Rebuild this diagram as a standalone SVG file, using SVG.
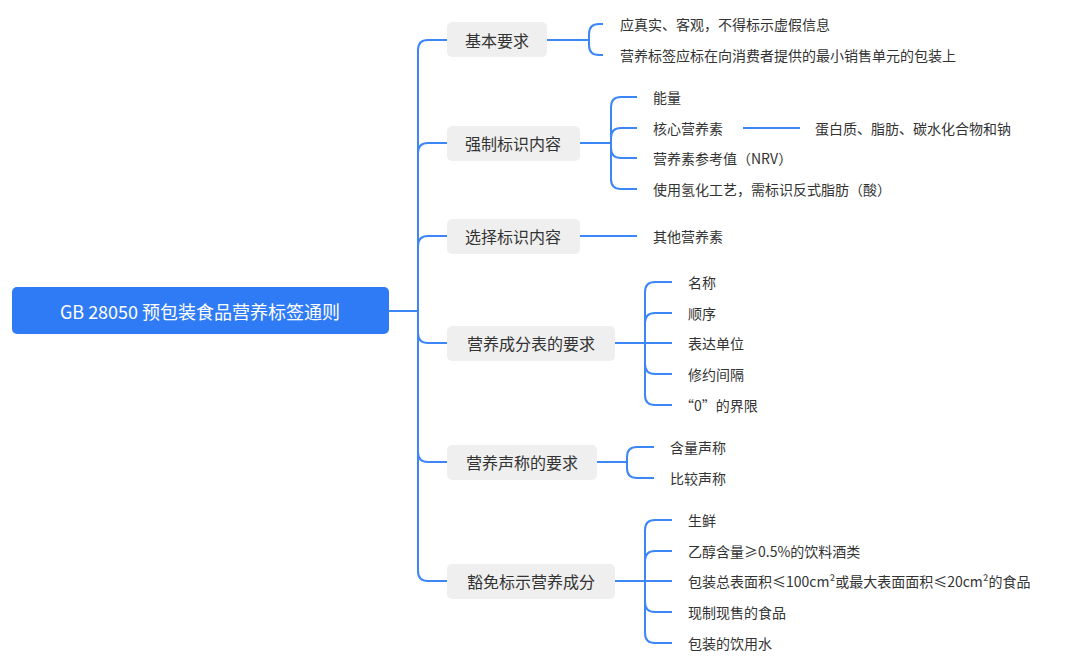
<svg xmlns="http://www.w3.org/2000/svg" width="1080" height="668" viewBox="0 0 1080 668">
<style>
text{font-family:"Noto Sans CJK SC","Noto Sans",sans-serif;fill:#333;dominant-baseline:central}
.b{fill:#efefef}
.bt{font-size:16px;text-anchor:middle}
.l{font-size:14px}
#connectors path{fill:none;stroke:#3d86f7;stroke-width:2}
</style>
<rect width="1080" height="668" fill="#fff"/>
<g id="connectors">
<path d="M389 311H418"/>
<path d="M418 311V50Q418 40 428 40H447"/>
<path d="M418 311V153Q418 143 428 143H447"/>
<path d="M418 311V246Q418 236 428 236H447"/>
<path d="M418 311V333Q418 343 428 343H447"/>
<path d="M418 311V452Q418 462 428 462H447"/>
<path d="M418 311V571Q418 581 428 581H447"/>
<path d="M547 40H589M589 40V34Q589 24 599 24H603M589 40V45Q589 55 599 55H603"/>
<path d="M580 143H611M611 143V107Q611 97 621 97H637M611 143V138Q611 128 621 128H637M611 143V148Q611 158 621 158H637M611 143V179Q611 189 621 189H637"/>
<path d="M743 128H800"/>
<path d="M580 236H637"/>
<path d="M615 343H645M645 343V292Q645 282 655 282H672M645 343V323Q645 313 655 313H672M645 343H672M645 343V364Q645 374 655 374H672M645 343V395Q645 405 655 405H672"/>
<path d="M597 462H627M627 462V457Q627 447 637 447H654M627 462V468Q627 478 637 478H654"/>
<path d="M615 581H645M645 581V530Q645 520 655 520H672M645 581V561Q645 551 655 551H672M645 581H672M645 581V602Q645 612 655 612H672M645 581V633Q645 643 655 643H672"/>
</g>
<g id="root"><rect x="12" y="287" width="377" height="47" rx="5" fill="#2f7bf6"/><text x="200" y="311" style="fill:#fff;font-size:18px;text-anchor:middle">GB 28050 预包装食品营养标签通则</text></g>
<g id="n1"><rect class="b" x="447" y="22" width="100" height="35" rx="5"/><text class="bt" x="497" y="40">基本要求</text></g>
<g id="n2"><rect class="b" x="447" y="126" width="133" height="35" rx="5"/><text class="bt" x="513" y="143">强制标识内容</text></g>
<g id="n3"><rect class="b" x="447" y="219" width="133" height="35" rx="5"/><text class="bt" x="513" y="236">选择标识内容</text></g>
<g id="n4"><rect class="b" x="447" y="326" width="168" height="35" rx="5"/><text class="bt" x="531" y="343">营养成分表的要求</text></g>
<g id="n5"><rect class="b" x="447" y="445" width="150" height="35" rx="5"/><text class="bt" x="522" y="462">营养声称的要求</text></g>
<g id="n6"><rect class="b" x="447" y="564" width="168" height="35" rx="5"/><text class="bt" x="531" y="581">豁免标示营养成分</text></g>
<g id="leaves">
<text class="l" x="620" y="24">应真实、客观，不得标示虚假信息</text>
<text class="l" x="620" y="55">营养标签应标在向消费者提供的最小销售单元的包装上</text>
<text class="l" x="653" y="97">能量</text>
<text class="l" x="653" y="128">核心营养素</text>
<text class="l" x="815" y="128">蛋白质、脂肪、碳水化合物和钠</text>
<text class="l" x="653" y="158">营养素参考值（NRV）</text>
<text class="l" x="653" y="189">使用氢化工艺，需标识反式脂肪（酸）</text>
<text class="l" x="653" y="236">其他营养素</text>
<text class="l" x="688" y="282">名称</text>
<text class="l" x="688" y="313">顺序</text>
<text class="l" x="688" y="343">表达单位</text>
<text class="l" x="688" y="374">修约间隔</text>
<text class="l" x="680" y="405">“0”的界限</text>
<text class="l" x="670" y="447">含量声称</text>
<text class="l" x="670" y="478">比较声称</text>
<text class="l" x="688" y="520">生鲜</text>
<text class="l" x="688" y="551">乙醇含量≥0.5%的饮料酒类</text>
<text class="l" x="688" y="581">包装总表面积≤100cm²或最大表面面积≤20cm²的食品</text>
<text class="l" x="688" y="612">现制现售的食品</text>
<text class="l" x="688" y="643">包装的饮用水</text>
</g>
</svg>
